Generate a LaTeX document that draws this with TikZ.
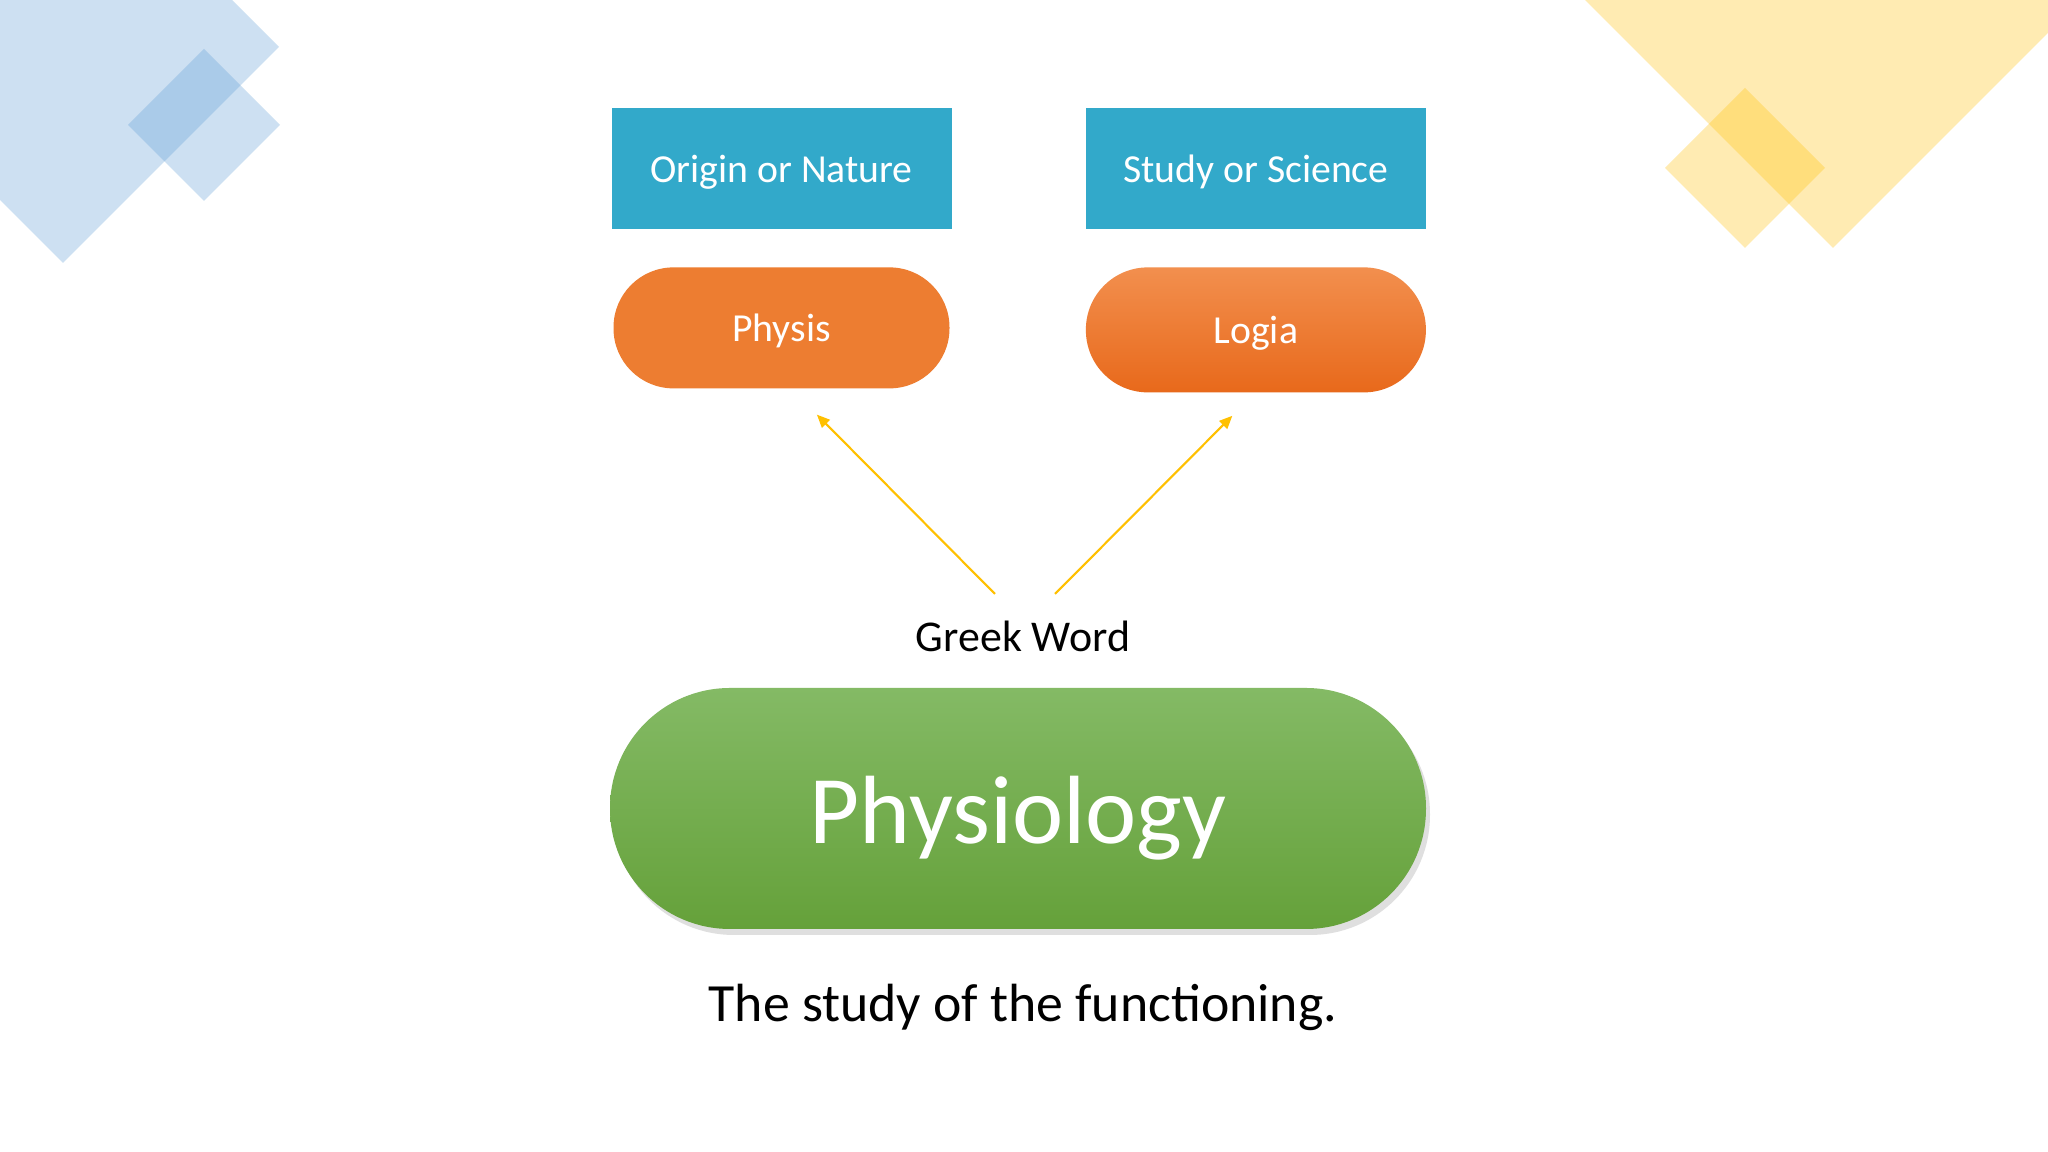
\documentclass[tikz,border=0pt]{standalone}
\usepackage{fontspec}
\setmainfont{Carlito}
\usetikzlibrary{arrows.meta,positioning,calc,shadows}
\definecolor{bc}{RGB}{50,169,202}
\definecolor{oc}{RGB}{237,125,49}
\definecolor{otc}{RGB}{242,143,78}
\definecolor{obc}{RGB}{232,105,27}
\definecolor{gtc}{RGB}{132,186,101}
\definecolor{gbc}{RGB}{101,161,58}
\definecolor{ac}{RGB}{255,192,0}
\definecolor{dc}{RGB}{91,155,213}
\tikzset{tb/.style={fill=bc,text=white,minimum width=34mm,minimum height=12.1mm,
  text height=7.9pt,text depth=0pt,font=\fontsize{11.3}{13}\selectfont},
 pl/.style={tb,fill=oc,rounded corners=6mm,minimum width=33.6mm},
 plg/.style={pl,fill=none,top color=otc,bottom color=obc,rounded corners=6.2mm,minimum width=34mm,minimum height=12.5mm},
 big/.style={top color=gtc,bottom color=gbc,text=white,rounded corners=12mm,minimum width=81.6mm,minimum height=24.1mm,
  text height=20pt,text depth=0pt,font=\fontsize{27.6}{32}\selectfont,
  drop shadow={opacity=.25,shadow xshift=.4mm,shadow yshift=-.6mm}},
 arr/.style={-{Triangle[length=1.3mm,width=1.1mm]},draw=ac,line width=.6pt},
 bdia/.style={fill=dc,fill opacity=.3},ydia/.style={fill=ac,fill opacity=.3}}

\begin{document}
\begin{tikzpicture}[x=1cm,y=1cm]
\useasboundingbox (0,0) rectangle (20.48,11.52);
\clip (0,0) rectangle (20.48,11.52);
\fill[white] (0,0) rectangle (20.48,11.52);
% corner diamonds
\fill[bdia] (.63,8.89)--(2.79,11.05)--(.63,13.21)--(-1.53,11.05)--cycle;
\fill[bdia] (2.04,9.51)--(2.80,10.27)--(2.04,11.03)--(1.28,10.27)--cycle;
\fill[ydia] (18.33,9.04)--(21.93,12.64)--(18.33,16.24)--(14.73,12.64)--cycle;
\fill[ydia] (17.45,9.04)--(18.25,9.84)--(17.45,10.64)--(16.65,9.84)--cycle;
% terms
\node[tb] (origin) at (7.815,9.835) {Origin or Nature};
\node[tb,right=13.3mm of origin] (study) {Study or Science};
\node[pl,below=3.7mm of origin] (physis) {Physis};
\node[plg,below=3.7mm of study] (logia) {Logia};
\node (greek) at (10.23,5.16) {\fontsize{12.5}{15}\selectfont Greek Word};
\node[big] (physio) at (10.18,3.435) {Physiology};
\node (def) at (10.23,1.45) {\fontsize{15.3}{18}\selectfont The study of the functioning.};
% arrows
\coordinate (gl) at ($(greek.center)+(-.28,.42)$);
\coordinate (gr) at ($(greek.center)+(.32,.42)$);
\draw[arr,shorten >=3.6mm] (gl) -- ([xshift=1mm]physis.south);
\draw[arr,shorten >=3.2mm] (gr) -- ([xshift=-.1mm]logia.south);
\end{tikzpicture}
\end{document}
